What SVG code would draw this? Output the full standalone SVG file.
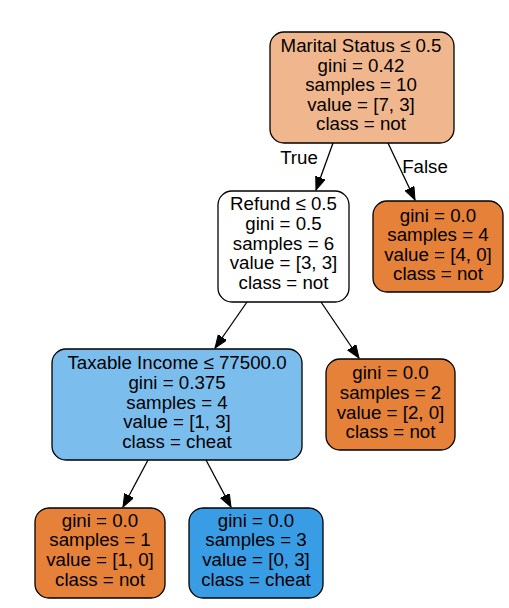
<svg xmlns="http://www.w3.org/2000/svg" width="509" height="608" viewBox="0 0 509 608">
<style>
.n{stroke:#000;stroke-width:1.3}
text{font-family:"Liberation Sans",Arial,sans-serif;font-size:18.7px;fill:#000;text-anchor:middle}
.e{stroke:#000;stroke-width:1.3;fill:none;marker-end:url(#ah)}
</style>
<defs>
<marker id="ah" markerUnits="userSpaceOnUse" markerWidth="14" markerHeight="12" refX="13" refY="5" orient="auto">
<path d="M0,0 L13,5 L0,10 Z" fill="#000" stroke="#000" stroke-width="1"/>
</marker>
</defs>
<rect width="509" height="608" fill="#fff"/>
<g id="edges">
<line class="e" x1="333" y1="143" x2="316" y2="190"/>
<line class="e" x1="388" y1="143" x2="415" y2="200"/>
<line class="e" x1="247" y1="302" x2="215" y2="348"/>
<line class="e" x1="321" y1="302" x2="359" y2="358"/>
<line class="e" x1="148" y1="460" x2="123" y2="507"/>
<line class="e" x1="206" y1="460" x2="231" y2="507"/>
<text x="299" y="164">True</text>
<text x="425" y="173">False</text>
</g>
<g id="node0">
<rect class="n" x="270" y="32" width="184" height="111" rx="14" fill="#f0b78e"/>
<text x="361" y="52">Marital Status ≤ 0.5</text>
<text x="361" y="72">gini = 0.42</text>
<text x="361" y="91">samples = 10</text>
<text x="361" y="111">value = [7, 3]</text>
<text x="361" y="130">class = not</text>
</g>
<g id="node1">
<rect class="n" x="218" y="191" width="131" height="111" rx="14" fill="#fff"/>
<text x="283.5" y="210">Refund ≤ 0.5</text>
<text x="283.5" y="230">gini = 0.5</text>
<text x="283.5" y="250">samples = 6</text>
<text x="283.5" y="269">value = [3, 3]</text>
<text x="283.5" y="289">class = not</text>
</g>
<g id="node6">
<rect class="n" x="373" y="201" width="130" height="91" rx="14" fill="#e58139"/>
<text x="438" y="221.5">gini = 0.0</text>
<text x="438" y="241">samples = 4</text>
<text x="438" y="260.5">value = [4, 0]</text>
<text x="438" y="280">class = not</text>
</g>
<g id="node2">
<rect class="n" x="52" y="349" width="250" height="111" rx="14" fill="#7bbeee"/>
<text x="177" y="369">Taxable Income ≤ 77500.0</text>
<text x="177" y="389">gini = 0.375</text>
<text x="177" y="409">samples = 4</text>
<text x="177" y="428">value = [1, 3]</text>
<text x="177" y="448">class = cheat</text>
</g>
<g id="node5">
<rect class="n" x="326" y="359" width="129" height="91" rx="14" fill="#e58139"/>
<text x="390.5" y="379">gini = 0.0</text>
<text x="390.5" y="399">samples = 2</text>
<text x="390.5" y="419">value = [2, 0]</text>
<text x="390.5" y="438">class = not</text>
</g>
<g id="node3">
<rect class="n" x="35" y="508" width="130" height="90" rx="14" fill="#e58139"/>
<text x="100" y="527">gini = 0.0</text>
<text x="100" y="546">samples = 1</text>
<text x="100" y="566">value = [1, 0]</text>
<text x="100" y="586">class = not</text>
</g>
<g id="node4">
<rect class="n" x="189" y="508" width="134" height="90" rx="14" fill="#399de5"/>
<text x="256" y="527">gini = 0.0</text>
<text x="256" y="546">samples = 3</text>
<text x="256" y="566">value = [0, 3]</text>
<text x="256" y="586">class = cheat</text>
</g>
</svg>
